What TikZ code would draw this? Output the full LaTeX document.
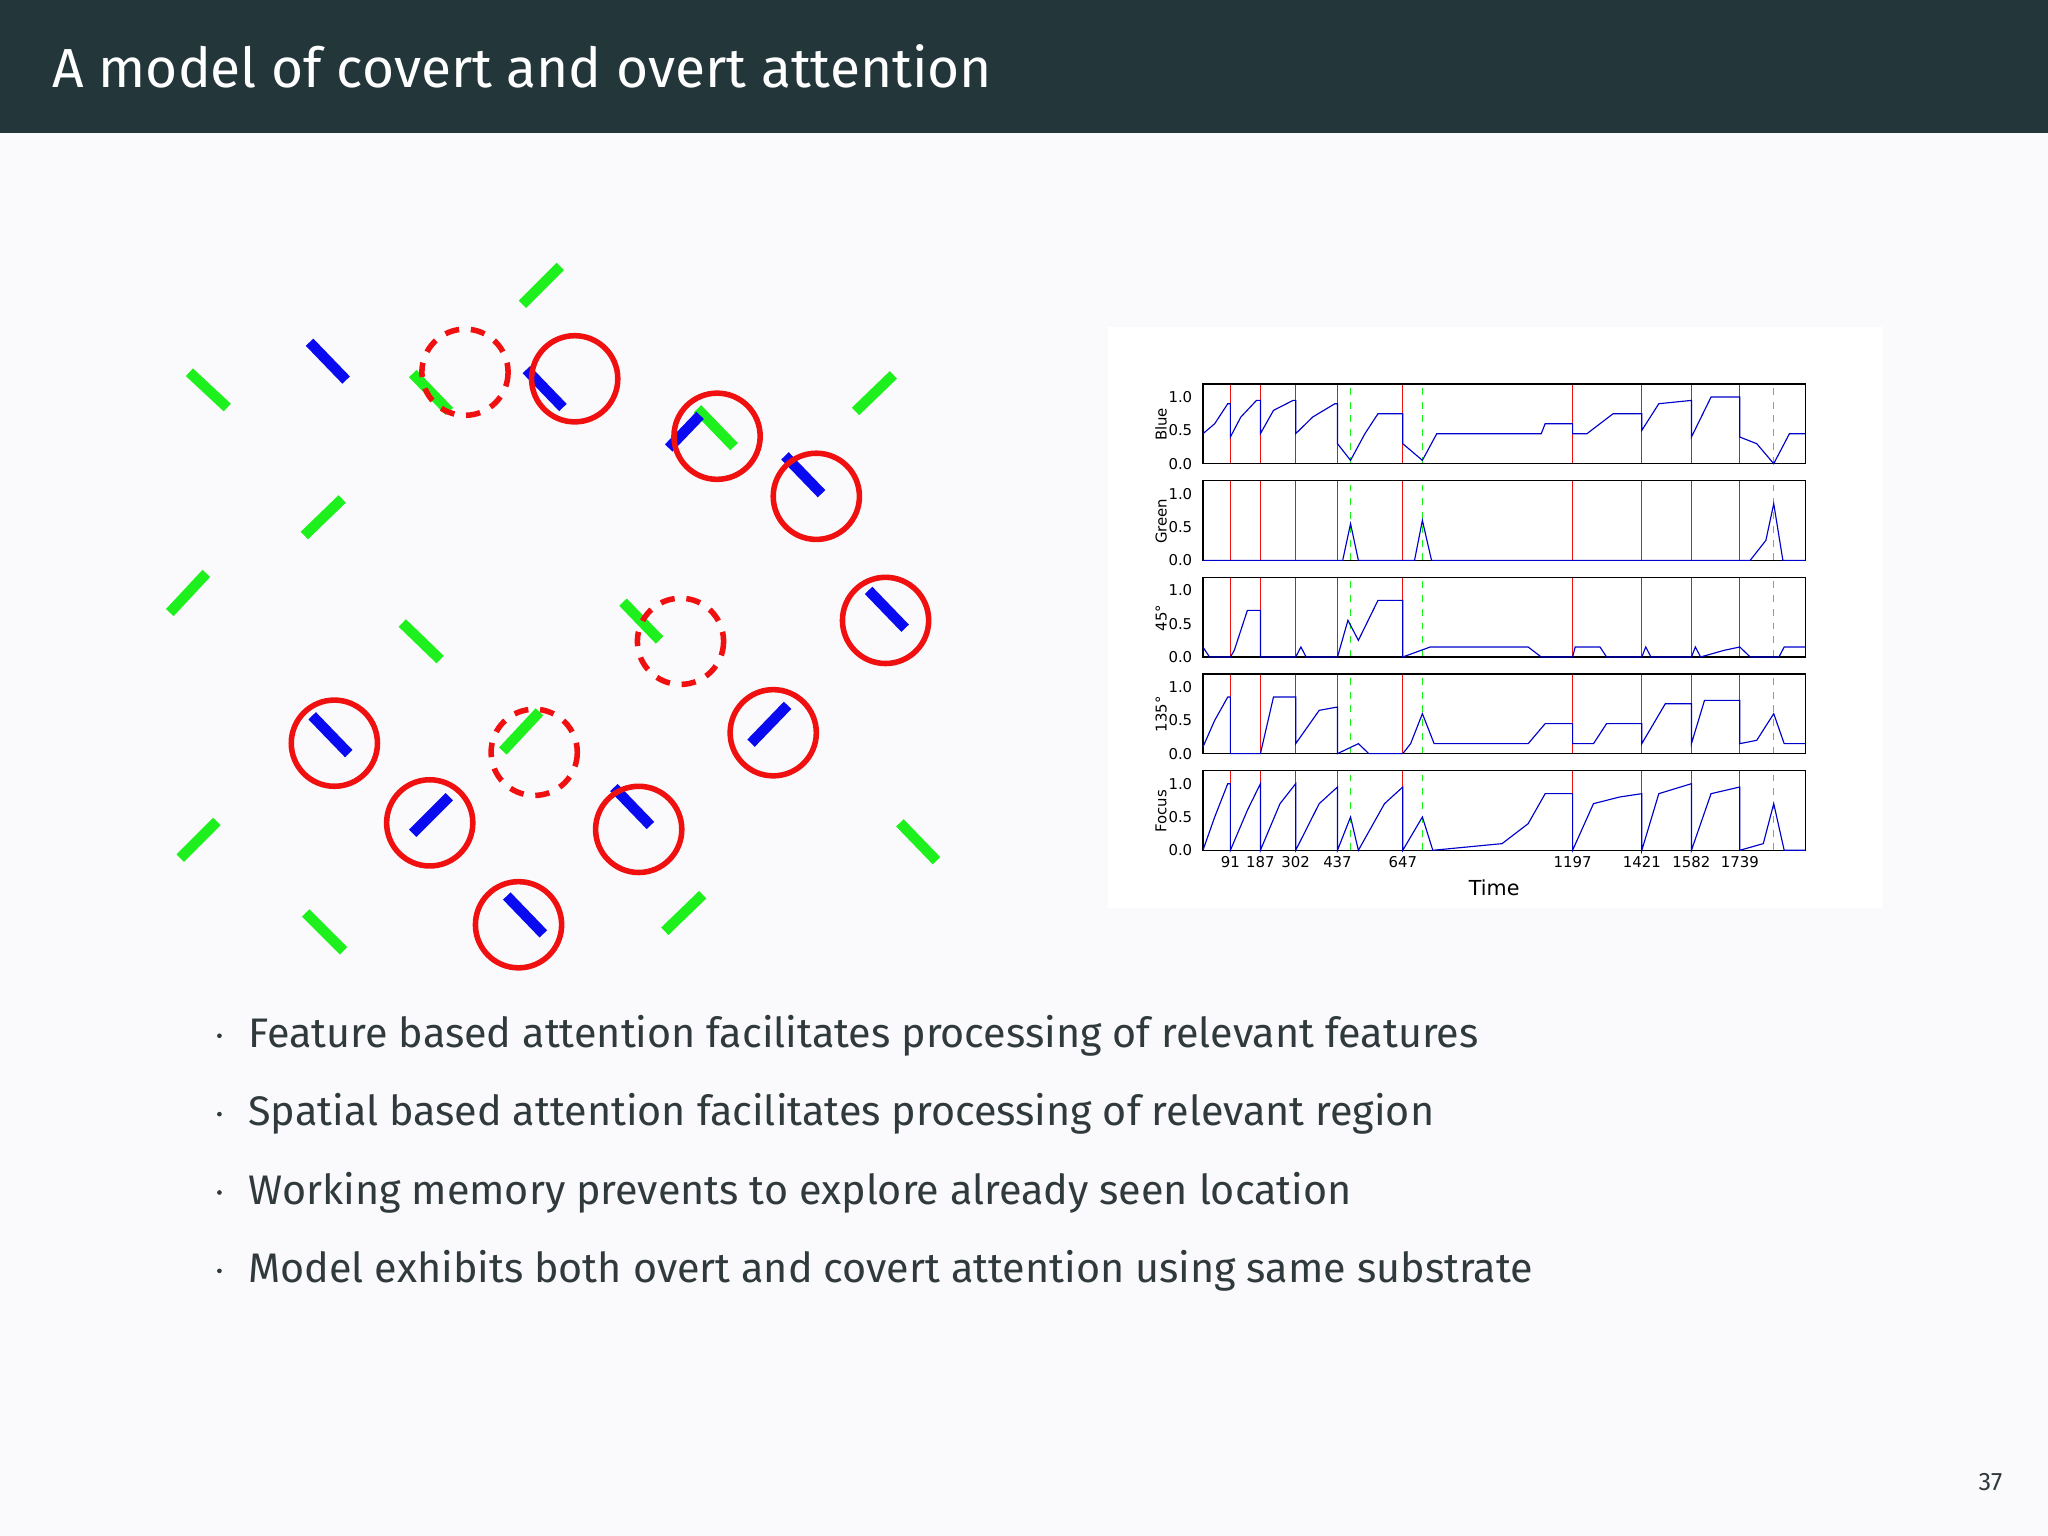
\documentclass[tikz,border=0pt]{standalone}
\usepackage{fontspec}
\setmainfont{Fira Sans}
\newfontfamily\plotfont{DejaVu Sans}
\definecolor{bg}{HTML}{FAFAFC}
\definecolor{bar}{HTML}{23373B}
\definecolor{gbar}{HTML}{1EF01E}
\definecolor{bbar}{HTML}{0A0AF0}
\definecolor{rc}{HTML}{F01010}
\definecolor{txt}{HTML}{30393C}
\tikzset{
 gb/.style={draw=gbar,line width=0.16cm},
 bb/.style={draw=bbar,line width=0.16cm},
 rcirc/.style={draw=rc,line width=0.085cm},
 rdash/.style={draw=rc,line width=0.085cm,dash pattern=on 0.22cm off 0.18cm},
 bullet/.style={anchor=west,text=txt,font=\fontsize{18}{20}\selectfont},
 tick/.style={anchor=east,font=\plotfont\fontsize{6.5}{7}\selectfont},
 curve/.style={draw=blue!80!black,line width=0.5pt},
}
\begin{document}
\begin{tikzpicture}[x=0.02cm,y=-0.02cm]
\useasboundingbox (0,0) rectangle (1568,1176);
\fill[bg] (0,0) rectangle (1568,1176);
\fill[bar] (0,0) rectangle (1568,102);
\node[anchor=west,text=white,font=\fontsize{24}{28}\selectfont] (title) at (34,51) {A model of covert and overt attention};
% scene
\foreach \a/\b/\c/\d in {400/233/429/204,145/285/174/312,655/315/684/287,233/410/262/382,130/469/158/439,308/477/337/505,477/461/505/490,316/286/344/315,534/313/562/342,385/575/413/545,138/657/166/629,689/630/717/659,234/699/263/728,509/713/538/685}
  \draw[gb] (\a,\b) -- (\c,\d);
\foreach \a/\b/\c/\d in {237/262/265/291,403/283/431/312,512/343/536/318,601/349/629/378,665/452/693/481,239/548/267/577,575/569/603/540,316/638/344/610,470/603/498/632,388/686/416/715}
  \draw[bb] (\a,\b) -- (\c,\d);
\foreach \x/\y in {440/290,549/334,625/380,678/475,256/569,329/630,489/635,592/561,397/708}
  \draw[rcirc] (\x,\y) circle (33);
\foreach \x/\y in {356/285,521/491,409/576}
  \draw[rdash] (\x,\y) circle (33);
% plot
\fill[white] (848,250) rectangle (1442,695);
\foreach \b/\lab in {355/Blue,429/Green,503/45°,577/135°,651/Focus}{
  \foreach \x in {942,965,992,1024,1074,1204,1257,1295,1332}
    \draw[rc,line width=0.5pt] (\x,\b) -- (\x,\b-61);
  \foreach \x in {1034,1089,1358}
    \draw[gbar!70!green,line width=0.5pt,dashed] (\x,\b) -- (\x,\b-61);
  \draw[line width=0.5pt] (921,\b) rectangle (1382,\b-61);
  \node[tick] at (919,\b) {0.0};
  \node[tick] at (919,\b-25.5) {0.5};
  \node[tick] at (919,\b-51) {1.0};
  \node[rotate=90,font=\plotfont\fontsize{6.5}{7}\selectfont] at (889,\b-30) {\lab};
}
\begin{scope}[shift={(0,355)},yscale=-51]
\draw[curve] (921,0.45) -- (930,0.6) -- (940,0.9) -- (942,0.9) -- (942,0.4) -- (950,0.7) -- (962,0.95) -- (965,0.95) -- (965,0.45) -- (975,0.8) -- (990,0.95) -- (992,0.95) -- (992,0.45) -- (1005,0.7) -- (1022,0.9) -- (1024,0.9) -- (1024,0.3) -- (1034,0.05) -- (1045,0.45) -- (1055,0.75) -- (1074,0.75) -- (1074,0.3) -- (1089,0.05) -- (1100,0.45) -- (1180,0.45) -- (1183,0.6) -- (1204,0.6) -- (1204,0.45) -- (1215,0.45) -- (1235,0.75) -- (1257,0.75) -- (1257,0.5) -- (1270,0.9) -- (1295,0.95) -- (1295,0.4) -- (1310,1.0) -- (1332,1.0) -- (1332,0.4) -- (1345,0.3) -- (1358,0.0) -- (1370,0.45) -- (1382,0.45);
\end{scope}
\begin{scope}[shift={(0,429)},yscale=-51]
\draw[curve] (921,0) -- (1028,0) -- (1034,0.55) -- (1040,0) -- (1083,0) -- (1089,0.6) -- (1096,0) -- (1340,0) -- (1352,0.3) -- (1358,0.85) -- (1365,0) -- (1382,0);
\end{scope}
\begin{scope}[shift={(0,503)},yscale=-51]
\draw[curve] (921,0.15) -- (926,0) -- (942,0) -- (945,0.1) -- (955,0.7) -- (965,0.7) -- (965,0) -- (992,0) -- (996,0.15) -- (1000,0) -- (1024,0) -- (1032,0.55) -- (1040,0.25) -- (1055,0.85) -- (1074,0.85) -- (1074,0) -- (1095,0.15) -- (1170,0.15) -- (1180,0) -- (1204,0) -- (1206,0.15) -- (1225,0.15) -- (1230,0) -- (1257,0) -- (1260,0.15) -- (1264,0) -- (1295,0) -- (1298,0.15) -- (1302,0) -- (1320,0.1) -- (1332,0.15) -- (1340,0) -- (1362,0) -- (1366,0.15) -- (1382,0.15);
\end{scope}
\begin{scope}[shift={(0,577)},yscale=-51]
\draw[curve] (921,0.1) -- (930,0.5) -- (940,0.85) -- (942,0.85) -- (942,0) -- (965,0) -- (975,0.85) -- (992,0.85) -- (992,0.15) -- (1010,0.65) -- (1024,0.7) -- (1024,0) -- (1040,0.15) -- (1048,0) -- (1074,0) -- (1080,0.15) -- (1089,0.6) -- (1098,0.15) -- (1170,0.15) -- (1183,0.45) -- (1204,0.45) -- (1204,0.15) -- (1220,0.15) -- (1230,0.45) -- (1257,0.45) -- (1257,0.15) -- (1275,0.75) -- (1295,0.75) -- (1295,0.15) -- (1305,0.8) -- (1332,0.8) -- (1332,0.15) -- (1345,0.2) -- (1358,0.6) -- (1366,0.15) -- (1382,0.15);
\end{scope}
\begin{scope}[shift={(0,651)},yscale=-51]
\draw[curve] (921,0) -- (930,0.5) -- (940,1.0) -- (942,1) -- (942,0) -- (955,0.6) -- (965,1.0) -- (965,0) -- (980,0.7) -- (992,1.0) -- (992,0) -- (1010,0.7) -- (1024,0.95) -- (1024,0) -- (1034,0.5) -- (1040,0) -- (1060,0.7) -- (1074,0.95) -- (1074,0) -- (1089,0.5) -- (1097,0) -- (1150,0.1) -- (1170,0.4) -- (1183,0.85) -- (1204,0.85) -- (1204,0) -- (1220,0.7) -- (1240,0.8) -- (1257,0.85) -- (1257,0) -- (1270,0.85) -- (1295,1.0) -- (1295,0) -- (1310,0.85) -- (1332,0.95) -- (1332,0) -- (1350,0.1) -- (1358,0.7) -- (1366,0) -- (1382,0);
\end{scope}
\foreach \x/\l in {942/91,965/187,992/302,1024/437,1074/647,1204/1197,1257/1421,1295/1582,1332/1739}
  \node[font=\plotfont\fontsize{6.5}{7}\selectfont] at (\x,660) {\l};
\node[font=\plotfont\fontsize{9}{10}\selectfont] (time) at (1144,680) {Time};
% bullets
\foreach \y/\t in {793/Feature based attention facilitates processing of relevant features,853/Spatial based attention facilitates processing of relevant region,913/Working memory prevents to explore already seen location,973/Model exhibits both overt and covert attention using same substrate}{
  \fill[txt] (168,\y) circle (1.8);
  \node[bullet] at (184,\y) {\t};
}
\node[text=txt,font=\fontsize{11}{12}\selectfont] (page) at (1524,1135) {37};
\end{tikzpicture}
\end{document}
